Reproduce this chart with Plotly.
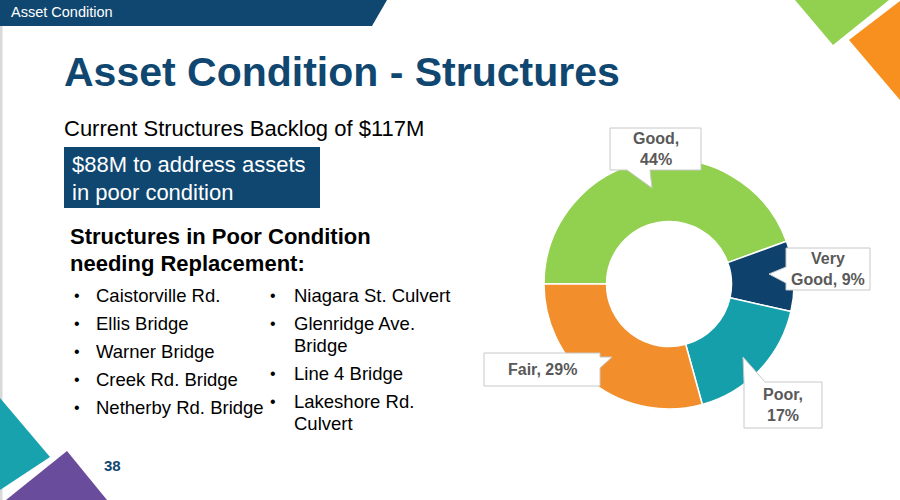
import plotly.graph_objects as go

# ---------------- data ----------------
conditions = ["Good", "Very Good", "Poor", "Fair"]
shares = [44, 9, 17, 29]
colors = ["#92D050", "#0E416B", "#159FAA", "#F28E2B"]

banner_text = "Asset Condition"
title_text = "Asset Condition - Structures"
backlog_text = "Current Structures Backlog of $117M"
box_lines = ["$88M to address assets", "in poor condition"]
heading_lines = ["Structures in Poor Condition", "needing Replacement:"]
left_items = ["Caistorville Rd.", "Ellis Bridge", "Warner Bridge", "Creek Rd. Bridge", "Netherby Rd. Bridge"]
right_items = ["Niagara St. Culvert", "Glenridge Ave.|Bridge", "Line 4 Bridge", "Lakeshore Rd.|Culvert"]
page_number = "38"

W, H = 900, 500
FONT = "Arial, Liberation Sans, sans-serif"
NAVY = "#0F4770"
GREY_TXT = "#595959"


def px(x):
    return x / W


def py(y):
    return 1 - y / H


def path(points):
    s = "M " + " L ".join(f"{px(x):.5f},{py(y):.5f}" for x, y in points) + " Z"
    return s


fig = go.Figure()

# ---------------- donut ----------------
cx, cy, r = 669, 284, 125
fig.add_trace(go.Pie(
    labels=conditions,
    values=shares,
    hole=0.5,
    sort=False,
    direction="clockwise",
    rotation=270,
    marker=dict(colors=colors, line=dict(color="white", width=1.5)),
    textinfo="none",
    showlegend=False,
    domain=dict(x=[px(cx - r), px(cx + r)], y=[py(cy + r), py(cy - r)]),
))

shapes = []
annotations = []

# decorative slide shapes
shapes.append(dict(type="path", path=path([(0, 0), (387, 0), (372, 26), (0, 26)]),
                   xref="paper", yref="paper", fillcolor=NAVY, line=dict(width=0), layer="below"))
shapes.append(dict(type="rect", x0=0, x1=px(2.5), y0=0, y1=py(26), xref="paper", yref="paper",
                   fillcolor="#D9D9D9", line=dict(width=0), layer="below"))
shapes.append(dict(type="path", path=path([(795, 0), (889, 0), (833, 45)]),
                   xref="paper", yref="paper", fillcolor="#92D050", line=dict(width=0)))
shapes.append(dict(type="path", path=path([(849, 40), (900, 1), (900, 100)]),
                   xref="paper", yref="paper", fillcolor="#F7901E", line=dict(width=0)))
shapes.append(dict(type="path", path=path([(0, 398), (50, 457), (0, 490)]),
                   xref="paper", yref="paper", fillcolor="#17A2AD", line=dict(width=0)))
shapes.append(dict(type="path", path=path([(67, 451), (107, 500), (6, 500)]),
                   xref="paper", yref="paper", fillcolor="#6A4C9C", line=dict(width=0)))

# blue box
shapes.append(dict(type="rect", x0=px(64), x1=px(320), y0=py(208), y1=py(147), xref="paper", yref="paper",
                   fillcolor=NAVY, line=dict(width=0)))

# callouts (box + pointer)
callout_paths = {
    "Good": [(610, 128), (701, 128), (701, 170), (650, 170), (652, 188), (627, 170), (610, 170)],
    "Very Good": [(786, 248), (870, 248), (870, 290), (786, 290), (786, 283), (769, 274), (786, 267)],
    "Poor": [(744, 382), (743, 357), (765, 382), (822, 382), (822, 428), (744, 428)],
    "Fair": [(484, 353), (600, 353), (600, 357), (612, 357), (600, 368), (600, 386), (484, 386)],
}
callout_centers = {"Good": (655.5, 149), "Very Good": (828, 269), "Poor": (783, 405), "Fair": (542, 369.5)}
callout_formats = {"Good": "{l},<br>{v}%", "Very Good": "Very<br>Good, {v}%", "Poor": "{l},<br>{v}%",
                   "Fair": "{l}, {v}%"}
for lab, val in zip(conditions, shares):
    shapes.append(dict(type="path", path=path(callout_paths[lab]), xref="paper", yref="paper",
                       fillcolor="white", line=dict(color="#C8C8C8", width=1)))
    x, y = callout_centers[lab]
    annotations.append(dict(text="<b>" + callout_formats[lab].format(l=lab, v=val) + "</b>",
                            x=px(x), y=py(y), xref="paper", yref="paper", showarrow=False,
                            xanchor="center", yanchor="middle",
                            font=dict(family=FONT, size=16, color=GREY_TXT)))


def txt(text, x, y, size, color="black", bold=False, anchor="left"):
    t = f"<b>{text}</b>" if bold else text
    annotations.append(dict(text=t, x=px(x), y=py(y), xref="paper", yref="paper", showarrow=False,
                            xanchor=anchor, yanchor="middle",
                            font=dict(family=FONT, size=size, color=color)))


txt(banner_text, 9, 12, 14.5, "white")
txt(title_text, 62, 72, 41, NAVY, bold=True)
txt(backlog_text, 62, 128, 22)
for i, line in enumerate(box_lines):
    txt(line, 70, 164 + 28 * i, 22, "white")
for i, line in enumerate(heading_lines):
    txt(line, 68, 236 + 27 * i, 22, bold=True)

y = 295
for item in left_items:
    txt("•", 72, y, 16)
    txt(item, 94, y, 18.5)
    y += 28

y = 295
for item in right_items:
    parts = item.split("|")
    txt("•", 268, y, 16)
    for j, part in enumerate(parts):
        txt(part, 292, y + 22 * j, 18.5)
    y += 28 + 22 * (len(parts) - 1)

txt(page_number, 102, 465, 15, NAVY, bold=True)

fig.update_layout(
    width=W, height=H,
    margin=dict(l=0, r=0, t=0, b=0),
    paper_bgcolor="white", plot_bgcolor="white",
    shapes=shapes, annotations=annotations,
    showlegend=False,
)

fig.write_html("out.html")
